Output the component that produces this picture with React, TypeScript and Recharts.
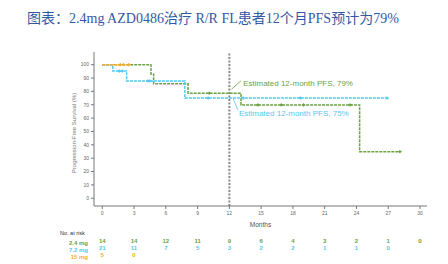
import { ComposedChart, Line, Scatter, XAxis, YAxis, ReferenceLine, ReferenceDot } from "recharts";

// KM steps (months, PFS %)
const months24 = [0, 4.6, 4.85, 8.1, 13.1, 24.3, 28.1];
const pfs24 = [100, 92.9, 85.7, 78.6, 69.9, 34.9, 34.9];
const months72 = [0, 1.0, 2.3, 7.8, 26.9];
const pfs72 = [100, 95.2, 87.8, 75, 75];
const months15 = [0, 2.5];
const pfs15 = [100, 100];

// censored marks
const cens24T = [10.1, 14.7, 16.9, 19.0, 23.4, 28.1];
const cens24S = [78.6, 69.9, 69.9, 69.9, 69.9, 34.9];
const cens72T = [1.6, 1.9, 4.3, 4.5, 10.0, 13.3, 18.7, 26.9];
const cens72S = [95.2, 95.2, 87.8, 87.8, 75, 75, 75, 75];
const cens15T = [1.7, 2.0, 2.5];
const cens15S = [100, 100, 100];

const monthTicks = [0, 3, 6, 9, 12, 15, 18, 21, 24, 27, 30];
const yTicks = [0, 10, 20, 30, 40, 50, 60, 70, 80, 90, 100];
const risk24 = [14, 14, 12, 11, 9, 6, 4, 3, 2, 1, 0];
const risk72 = [21, 11, 7, 5, 3, 2, 2, 1, 1, 0];
const risk15 = [5, 0];

const GREEN = "#6aa33f";
const BLUE = "#55c8ef";
const ORANGE = "#f6ab2c";
const X_DOMAIN = [-0.78, 30.66];

const zip = (t: number[], s: number[]) => t.map((v, i) => ({ t: v, s: s[i] }));
const anchorRows = monthTicks.map((t) => ({ t, s: 0 }));

const censorShape = (color: string) => (p: any) => (
  <g>
    <line x1={p.cx - 1.8} x2={p.cx + 1.8} y1={p.cy} y2={p.cy} stroke={color} strokeWidth={1} />
    <line x1={p.cx} x2={p.cx} y1={p.cy - 1.6} y2={p.cy + 1.6} stroke={color} strokeWidth={1} />
    <circle cx={p.cx} cy={p.cy} r={1.1} fill={color} />
  </g>
);

const riskFmt = (arr: number[]) => (v: number) => {
  const i = monthTicks.indexOf(v);
  return i >= 0 && i < arr.length ? String(arr[i]) : "";
};

const tickFont = { fontSize: 5, fill: "#666", fontFamily: "Liberation Sans, Arial, sans-serif" };
const riskTick = (c: string) => ({ fontSize: 6, fill: c, fontWeight: 700, fontFamily: "Liberation Sans, Arial, sans-serif" });

const riskAxis = (id: string, arr: number[], color: string, name: string) => (
  <XAxis
    key={id}
    xAxisId={id}
    type="number"
    dataKey="t"
    domain={X_DOMAIN}
    ticks={monthTicks}
    allowDataOverflow
    height={7}
    tick={riskTick(color)}
    tickFormatter={riskFmt(arr)}
    tickSize={0}
    tickMargin={0}
    axisLine={false}
    tickLine={false}
    label={{ value: name, position: "left", offset: 6, fontSize: 6, fontWeight: 700, fill: color }}
  />
);

export default function App() {
  return (
    <div style={{ position: "absolute", left: 0, top: 0, width: 448, height: 264, background: "#fff", fontFamily: "Liberation Sans, Arial, sans-serif" }}>
      <div
        style={{
          position: "absolute",
          left: 27,
          top: 7,
          fontSize: 14,
          color: "#3358a5",
          fontFamily: "'Liberation Serif', 'Noto Sans CJK SC', serif",
          whiteSpace: "nowrap",
        }}
      >
        图表：2.4mg AZD0486治疗 R/R FL患者12个月PFS预计为79%
      </div>
      <div style={{ position: "absolute", left: 60, top: 229.5, fontSize: 5.5, color: "#333", whiteSpace: "nowrap" }}>No. at risk</div>
      <ComposedChart width={448} height={264} margin={{ top: 52, right: 21, bottom: 4, left: 74 }}>
        <XAxis
          xAxisId="a0"
          type="number"
          dataKey="t"
          domain={X_DOMAIN}
          ticks={monthTicks}
          allowDataOverflow
          height={33}
          tick={tickFont}
          tickSize={3}
          tickMargin={2}
          axisLine={{ stroke: "#777" }}
          tickLine={{ stroke: "#777" }}
          label={{ value: "Months", position: "insideBottom", offset: 12, fontSize: 6.5, fill: "#555" }}
        />
        {riskAxis("a1", risk24, GREEN, "2.4 mg")}
        {riskAxis("a2", risk72, BLUE, "7.2 mg")}
        {riskAxis("a3", risk15, ORANGE, "15 mg")}
        <YAxis
          type="number"
          domain={[-5.8, 109.5]}
          ticks={yTicks}
          allowDataOverflow
          width={20}
          tick={tickFont}
          tickSize={3}
          tickMargin={2}
          axisLine={{ stroke: "#777" }}
          tickLine={{ stroke: "#777" }}
          label={(props: any) => {
            const vb = props.viewBox;
            const cx = vb.x;
            const cy = vb.y + vb.height / 2 + 4;
            return (
              <text x={cx} y={cy} transform={`rotate(-90 ${cx} ${cy})`} textAnchor="middle" dominantBaseline="central" fontSize={6} fill="#777">
                Progression-Free Survival (%)
              </text>
            );
          }}
        />
        {/* invisible anchors so the risk-table axes get a scale */}
        <Scatter xAxisId="a1" data={anchorRows} dataKey="s" shape={() => null} isAnimationActive={false} />
        <Scatter xAxisId="a2" data={anchorRows} dataKey="s" shape={() => null} isAnimationActive={false} />
        <Scatter xAxisId="a3" data={anchorRows} dataKey="s" shape={() => null} isAnimationActive={false} />
        <ReferenceLine xAxisId="a0" x={12} stroke="#8a8a8a" strokeWidth={2} strokeDasharray="2 1.5" />
        <Line xAxisId="a0" data={zip(months24, pfs24)} dataKey="s" type="stepAfter" stroke={GREEN} strokeWidth={1.5} strokeDasharray="3 1" dot={false} isAnimationActive={false} />
        <Line xAxisId="a0" data={zip(months72, pfs72)} dataKey="s" type="stepAfter" stroke={BLUE} strokeWidth={1.5} strokeDasharray="3 1" dot={false} isAnimationActive={false} />
        <Line xAxisId="a0" data={zip(months15, pfs15)} dataKey="s" type="stepAfter" stroke={ORANGE} strokeWidth={1.5} strokeDasharray="3 1" dot={false} isAnimationActive={false} />
        <Scatter xAxisId="a0" data={zip(cens24T, cens24S)} dataKey="s" shape={censorShape(GREEN)} isAnimationActive={false} />
        <Scatter xAxisId="a0" data={zip(cens72T, cens72S)} dataKey="s" shape={censorShape(BLUE)} isAnimationActive={false} />
        <Scatter xAxisId="a0" data={zip(cens15T, cens15S)} dataKey="s" shape={censorShape(ORANGE)} isAnimationActive={false} />
        <ReferenceLine xAxisId="a0" segment={[{ x: 12.2, y: 81.6 }, { x: 13.1, y: 88 }]} stroke={GREEN} strokeWidth={0.8} />
        <ReferenceLine xAxisId="a0" segment={[{ x: 12.35, y: 74.8 }, { x: 12.8, y: 66 }]} stroke={BLUE} strokeWidth={0.8} />
        <ReferenceDot
          xAxisId="a0"
          x={13.3}
          y={86.3}
          r={0}
          label={{ value: "Estimated 12-month PFS, 79%", position: "right", offset: 0, fontSize: 8, fill: GREEN }}
        />
        <ReferenceDot
          xAxisId="a0"
          x={12.9}
          y={63.9}
          r={0}
          label={{ value: "Estimated 12-month PFS, 75%", position: "right", offset: 0, fontSize: 8, fill: BLUE }}
        />
      </ComposedChart>
    </div>
  );
}
